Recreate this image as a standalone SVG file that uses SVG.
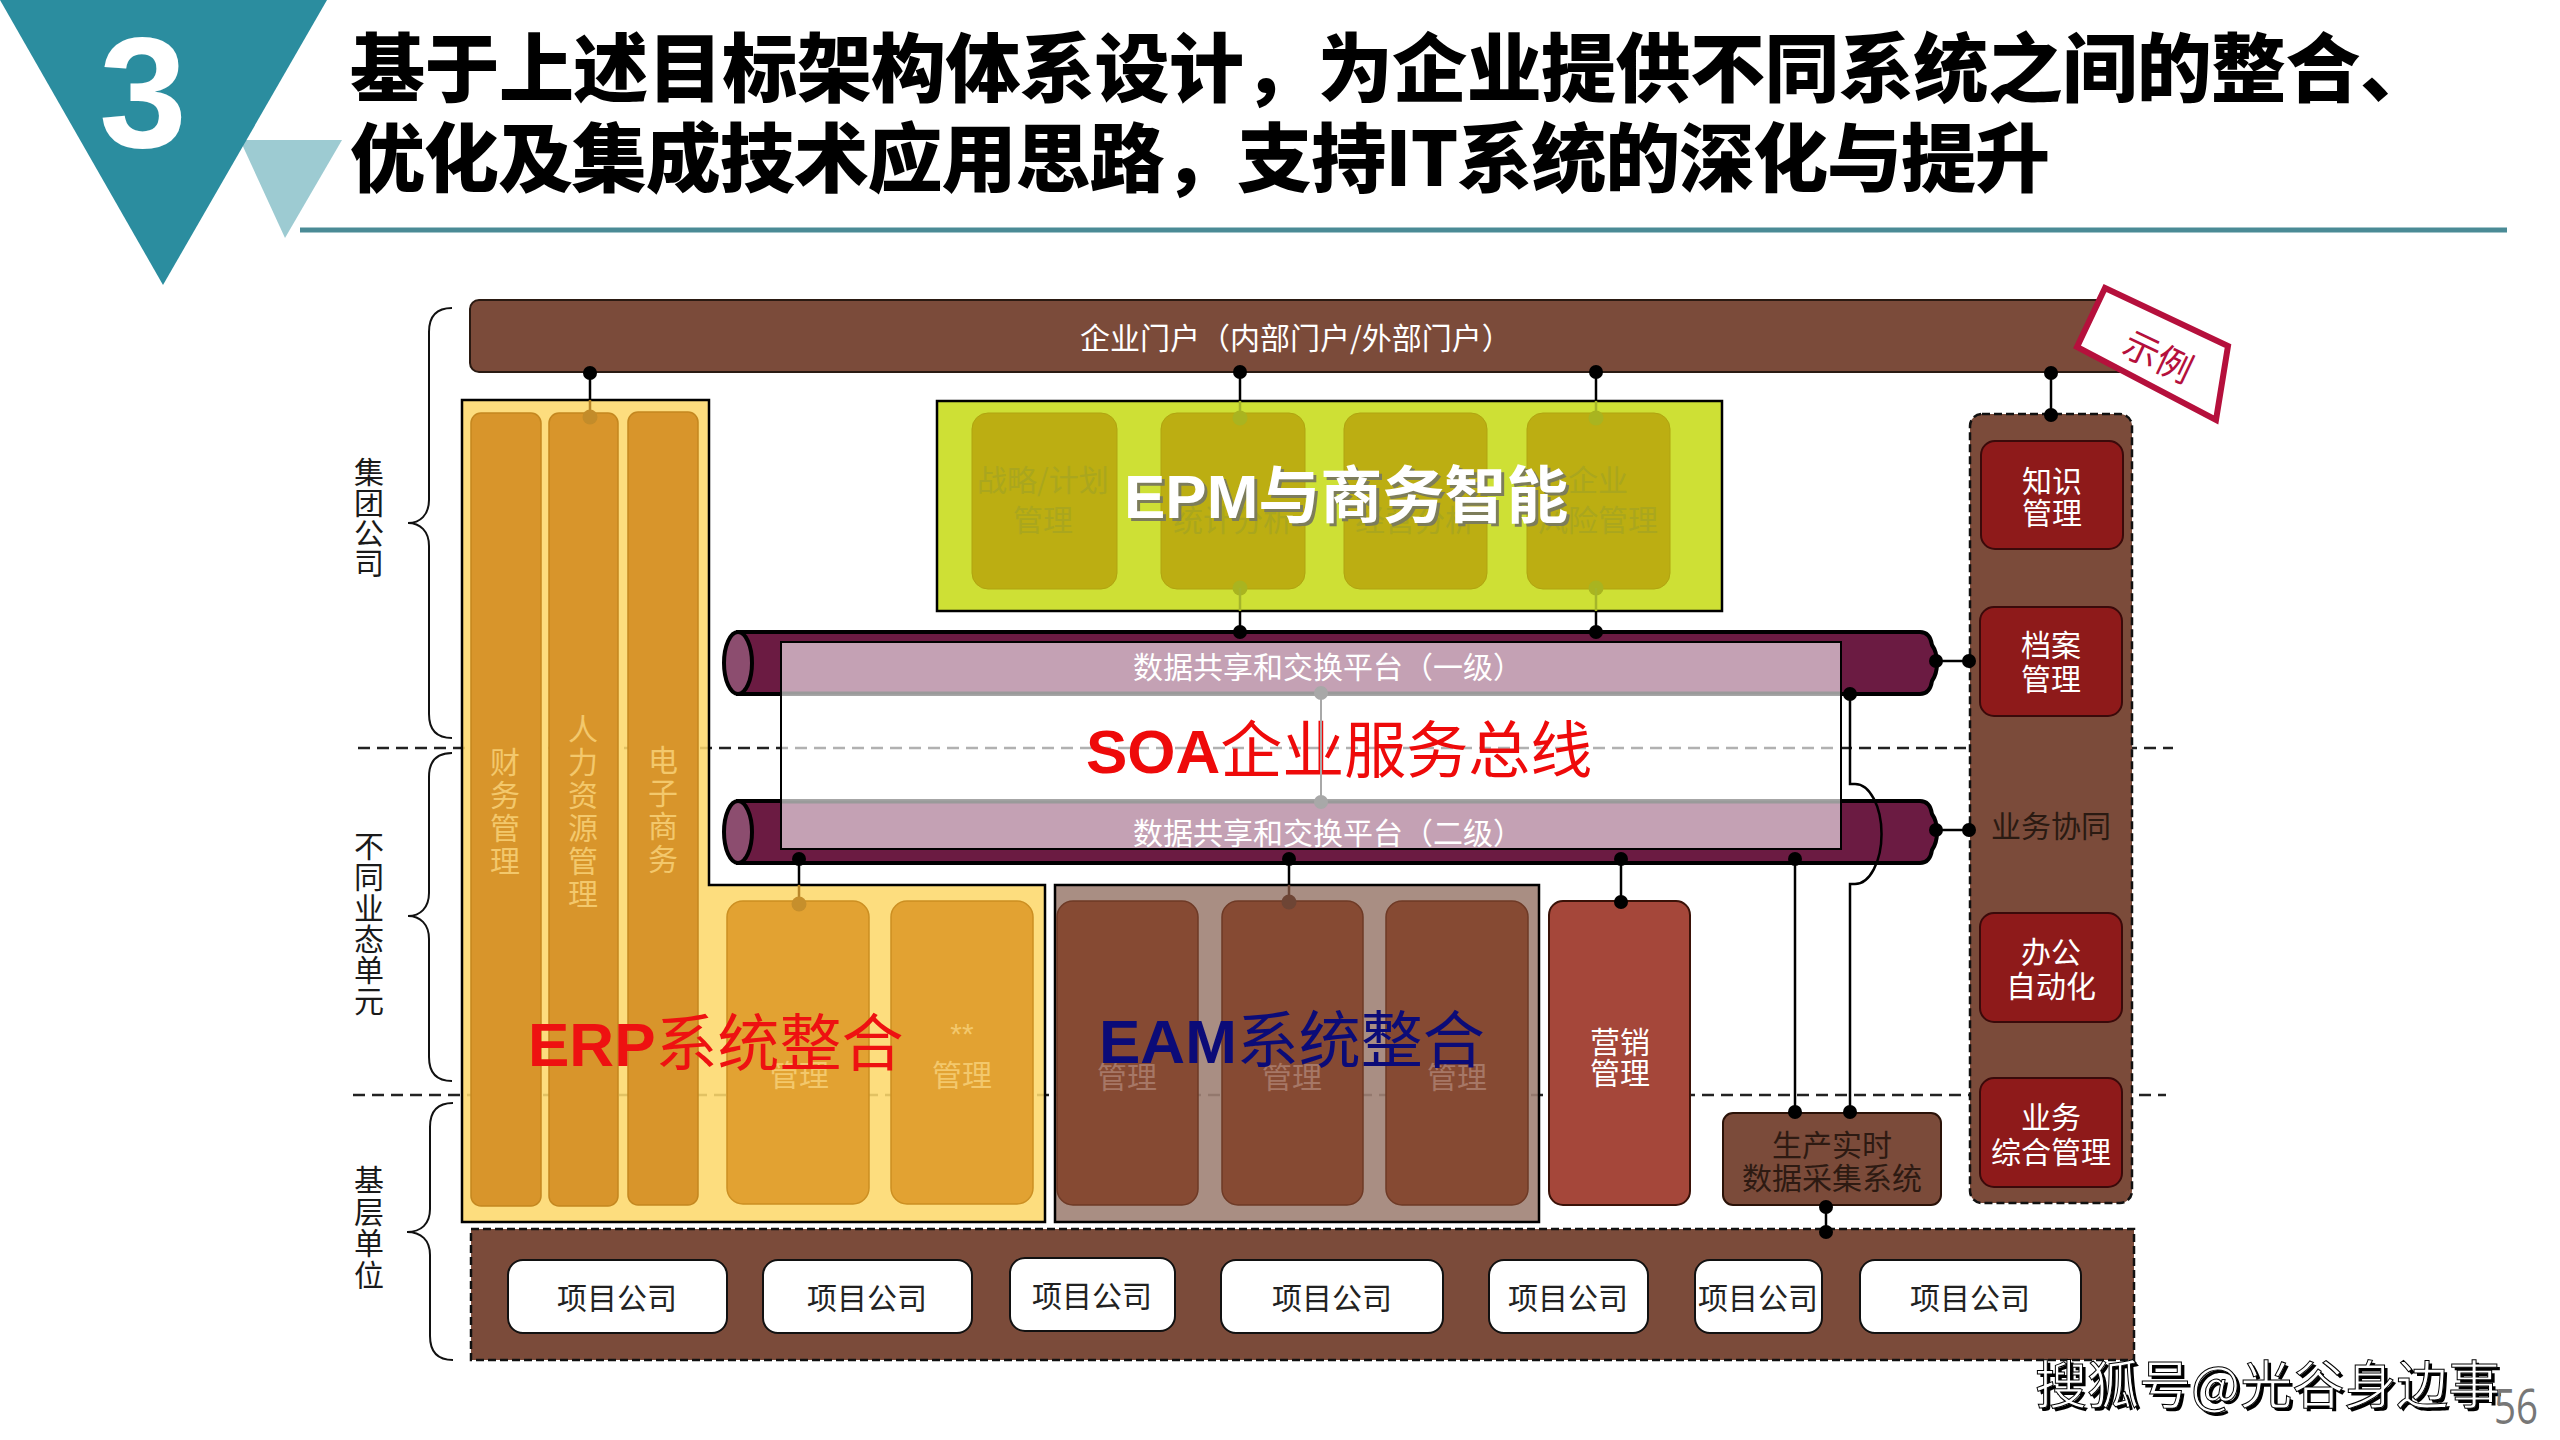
<svg xmlns="http://www.w3.org/2000/svg" width="2560" height="1440" viewBox="0 0 2560 1440">
<defs>
<style>
.cjk{font-family:'Noto Sans CJK SC','Noto Sans',sans-serif;}
.t30{font-family:'Noto Sans CJK SC',sans-serif;font-size:30px;}
.mid{text-anchor:middle;}
.wt{fill:#ffffff;}
.dk{fill:#1a1a1a;}
.ln{stroke:#000;stroke-width:2.5;fill:none;}
.dot{fill:#000;}
.dash{stroke:#222;stroke-width:2.5;stroke-dasharray:12 7;fill:none;}
.brace{stroke:#111;stroke-width:2;fill:none;}
.brown{fill:#7b4b3a;}
.redbox{fill:#8e1a1a;stroke:#3a0a0a;stroke-width:2;}
.col{fill:#d8952b;stroke:#c4871f;stroke-width:1.5;}
.erpb{fill:#e2a232;stroke:#cc8f22;stroke-width:1.5;}
.coltx{fill:#f3c86c;}
.eamb{fill:#864a33;stroke:#6e3a26;stroke-width:1.5;}
.eamtx{fill:#a67766;}
.epmb{fill:#bcae12;stroke:#b0a410;stroke-width:1;}
.epmtx{fill:#aaa61e;}
.pipe{fill:#6b1b42;stroke:#000;stroke-width:4;}
.pink{fill:#c4a1b4;}
.proj{fill:#fff;stroke:#111;stroke-width:2;}
.title{font-family:'Noto Sans CJK SC',sans-serif;font-size:75px;font-weight:900;fill:#000;}
.big{font-size:62px;}
.lat{font-family:'Liberation Sans',Arial,sans-serif;font-weight:bold;}
</style>
</defs>

<!-- header -->
<g id="header">
<polygon points="240,140 342,140 285,238" fill="#9dcbd2"/>
<polygon points="0,0 327,0 163,285" fill="#2b8d9f"/>
<text x="143" y="147" text-anchor="middle" font-family="'Liberation Sans',Arial,sans-serif" font-weight="bold" font-size="158" fill="#fff">3</text>
<text class="title" x="350" y="96" textLength="2085" lengthAdjust="spacing">基于上述目标架构体系设计，为企业提供不同系统之间的整合、</text>
<text class="title" x="350" y="186" textLength="1700" lengthAdjust="spacing">优化及集成技术应用思路，支持IT系统的深化与提升</text>
<line x1="300" y1="230" x2="2507" y2="230" stroke="#4a8b96" stroke-width="5"/>
</g>

<!-- layer separators -->
<g id="separators">
<line class="dash" x1="358" y1="748" x2="2173" y2="748"/>
<line class="dash" x1="353" y1="1095" x2="2166" y2="1095"/>
</g>

<!-- braces and layer labels -->
<g id="layer-labels">
<path class="brace" d="M452,308 C436,308 429,316 429,332 L429,500 C429,515 420,523 408,523 C420,523 429,531 429,546 L429,714 C429,730 436,738 452,738"/>
<path class="brace" d="M452,753 C436,753 429,761 429,777 L429,893 C429,908 420,916 408,916 C420,916 429,924 429,939 L429,1057 C429,1073 436,1081 452,1081"/>
<path class="brace" d="M453,1103 C437,1103 430,1111 430,1127 L430,1209 C430,1224 421,1232 407,1232 C421,1232 430,1240 430,1255 L430,1336 C430,1352 437,1360 453,1360"/>
<text class="t30 mid dk"><tspan x="369" y="483">集</tspan><tspan x="369" y="514">团</tspan><tspan x="369" y="544">公</tspan><tspan x="369" y="574">司</tspan></text>
<text class="t30 mid dk"><tspan x="369" y="857">不</tspan><tspan x="369" y="888">同</tspan><tspan x="369" y="919">业</tspan><tspan x="369" y="950">态</tspan><tspan x="369" y="981">单</tspan><tspan x="369" y="1012">元</tspan></text>
<text class="t30 mid dk"><tspan x="369" y="1191">基</tspan><tspan x="369" y="1223">层</tspan><tspan x="369" y="1254">单</tspan><tspan x="369" y="1286">位</tspan></text>
</g>

<!-- portal -->
<g id="portal">
<rect x="470" y="300" width="1660" height="72" rx="9" class="brown" stroke="#2a1a12" stroke-width="2"/>
<text class="t30 mid wt" x="1296" y="349">企业门户（内部门户/外部门户）</text>
</g>

<!-- ERP -->
<g id="erp">
<path d="M462,400 H709 V885 H1045 V1222 H462 Z" fill="#fdd86c" fill-opacity="0.88" stroke="#000" stroke-width="2.5"/>
<rect class="col" x="471" y="413" width="70" height="793" rx="10"/>
<rect class="col" x="549" y="413" width="69" height="793" rx="10"/>
<rect class="col" x="628" y="412" width="70" height="793" rx="10"/>
<rect class="erpb" x="727" y="901" width="142" height="303" rx="16"/>
<rect class="erpb" x="891" y="901" width="142" height="303" rx="16"/>
<text class="t30 mid coltx"><tspan x="505" y="773">财</tspan><tspan x="505" y="806">务</tspan><tspan x="505" y="839">管</tspan><tspan x="505" y="872">理</tspan></text>
<text class="t30 mid coltx"><tspan x="583" y="740">人</tspan><tspan x="583" y="773">力</tspan><tspan x="583" y="806">资</tspan><tspan x="583" y="839">源</tspan><tspan x="583" y="872">管</tspan><tspan x="583" y="905">理</tspan></text>
<text class="t30 mid coltx"><tspan x="663" y="771">电</tspan><tspan x="663" y="804">子</tspan><tspan x="663" y="837">商</tspan><tspan x="663" y="870">务</tspan></text>
<text class="t30 mid coltx" x="799" y="1086">管理</text>
<text class="mid coltx" x="962" y="1044" font-family="'Liberation Sans',Arial,sans-serif" font-size="30">**</text>
<text class="t30 mid coltx" x="962" y="1086">管理</text>
<text x="528" y="1066" fill="#ee1111" class="big"><tspan class="lat">ERP</tspan><tspan class="cjk">系统整合</tspan></text>
</g>

<!-- EPM -->
<g id="epm">
<rect x="937" y="401" width="785" height="210" fill="#cee035" stroke="#000" stroke-width="2.5"/>
<rect class="epmb" x="972" y="413" width="145" height="176" rx="16"/>
<rect class="epmb" x="1161" y="413" width="144" height="176" rx="16"/>
<rect class="epmb" x="1344" y="413" width="143" height="176" rx="16"/>
<rect class="epmb" x="1527" y="413" width="143" height="176" rx="16"/>
<text class="t30 mid epmtx" x="1043" y="491">战略/计划</text>
<text class="t30 mid epmtx" x="1043" y="531">管理</text>
<text class="t30 mid epmtx" x="1233" y="531">统计分析</text>
<text class="t30 mid epmtx" x="1415" y="531">经营分析</text>
<text class="t30 mid epmtx" x="1598" y="491">企业</text>
<text class="t30 mid epmtx" x="1598" y="531">风险管理</text>
<text x="1127" y="521" fill="#7d7d5a" class="big" font-weight="bold"><tspan class="lat">EPM</tspan><tspan class="cjk">与商务智能</tspan></text>
<text x="1124" y="518" fill="#ffffff" class="big" font-weight="bold"><tspan class="lat">EPM</tspan><tspan class="cjk">与商务智能</tspan></text>
</g>

<!-- SOA bus -->
<g id="soa">
<path class="pipe" d="M738,632 H1920 Q1930,632 1932,645 Q1937,652 1937,663 Q1937,674 1932,681 Q1930,694 1920,694 H738 Z"/>
<ellipse cx="738" cy="663" rx="14" ry="31" fill="#8c4d6f" stroke="#000" stroke-width="4"/>
<path class="pipe" d="M738,801 H1920 Q1930,801 1932,814 Q1937,821 1937,832 Q1937,843 1932,850 Q1930,863 1920,863 H738 Z"/>
<ellipse cx="738" cy="832" rx="14" ry="31" fill="#8c4d6f" stroke="#000" stroke-width="4"/>
<rect class="pink" x="781" y="642" width="1060" height="50"/>
<rect x="781" y="694" width="1060" height="107" fill="#fff" fill-opacity="0.65"/>
<rect class="pink" x="781" y="803" width="1060" height="46"/>
<line x1="781" y1="693" x2="1841" y2="693" stroke="#9a9a9a" stroke-width="3"/>
<line x1="781" y1="802" x2="1841" y2="802" stroke="#9a9a9a" stroke-width="3"/>
<rect x="781" y="642" width="1060" height="207" fill="none" stroke="#000" stroke-width="2"/>
<text class="t30 mid wt" x="1328" y="678">数据共享和交换平台（一级）</text>
<text class="t30 mid wt" x="1328" y="844">数据共享和交换平台（二级）</text>
<text x="1086" y="773" fill="#ee0a0a" class="big"><tspan class="lat">SOA</tspan><tspan class="cjk">企业服务总线</tspan></text>
</g>

<!-- EAM -->
<g id="eam">
<rect x="1055" y="885" width="484" height="337" fill="#a08275" fill-opacity="0.9" stroke="#000" stroke-width="2.5"/>
<rect class="eamb" x="1057" y="901" width="141" height="304" rx="16"/>
<rect class="eamb" x="1222" y="901" width="141" height="304" rx="16"/>
<rect class="eamb" x="1386" y="901" width="142" height="304" rx="16"/>
<text class="t30 mid eamtx" x="1127" y="1088">管理</text>
<text class="t30 mid eamtx" x="1292" y="1088">管理</text>
<text class="t30 mid eamtx" x="1457" y="1088">管理</text>
<text x="1099" y="1063" fill="#0b0b78" class="big"><tspan class="lat">EAM</tspan><tspan class="cjk">系统整合</tspan></text>
</g>

<!-- marketing -->
<g id="marketing">
<rect x="1549" y="901" width="141" height="304" rx="14" fill="#a5473a" stroke="#3a1208" stroke-width="2"/>
<text class="t30 mid wt" x="1620" y="1053">营销</text>
<text class="t30 mid wt" x="1620" y="1084">管理</text>
</g>

<!-- production data -->
<g id="production">
<rect x="1723" y="1113" width="218" height="92" rx="10" class="brown" stroke="#2a1208" stroke-width="2"/>
<text class="t30 mid" x="1832" y="1156" fill="#2d1a12">生产实时</text>
<text class="t30 mid" x="1832" y="1189" fill="#2d1a12">数据采集系统</text>
</g>

<!-- collaboration -->
<g id="collaboration">
<rect x="1970" y="414" width="162" height="789" rx="12" class="brown" stroke="#111" stroke-width="2.5" stroke-dasharray="8 4"/>
<rect class="redbox" x="1981" y="441" width="142" height="108" rx="14"/>
<text class="t30 mid wt" x="2052" y="492">知识</text>
<text class="t30 mid wt" x="2052" y="524">管理</text>
<rect class="redbox" x="1980" y="607" width="142" height="109" rx="14"/>
<text class="t30 mid wt" x="2051" y="656">档案</text>
<text class="t30 mid wt" x="2051" y="690">管理</text>
<text class="t30 mid" x="2051" y="837" fill="#2a1a12">业务协同</text>
<rect class="redbox" x="1980" y="913" width="142" height="109" rx="14"/>
<text class="t30 mid wt" x="2051" y="963">办公</text>
<text class="t30 mid wt" x="2051" y="997">自动化</text>
<rect class="redbox" x="1980" y="1078" width="142" height="109" rx="14"/>
<text class="t30 mid wt" x="2051" y="1128">业务</text>
<text class="t30 mid wt" x="2051" y="1163">综合管理</text>
</g>

<!-- project companies -->
<g id="projects">
<rect x="471" y="1229" width="1663" height="131" class="brown" stroke="#111" stroke-width="2.5" stroke-dasharray="8 4"/>
<rect class="proj" x="508" y="1260" width="219" height="73" rx="15"/>
<rect class="proj" x="763" y="1260" width="209" height="73" rx="15"/>
<rect class="proj" x="1010" y="1258" width="165" height="73" rx="15"/>
<rect class="proj" x="1221" y="1260" width="222" height="73" rx="15"/>
<rect class="proj" x="1489" y="1260" width="159" height="73" rx="15"/>
<rect class="proj" x="1695" y="1260" width="127" height="73" rx="15"/>
<rect class="proj" x="1860" y="1260" width="221" height="73" rx="15"/>
<text class="t30 mid" fill="#222" x="617" y="1309">项目公司</text>
<text class="t30 mid" fill="#222" x="867" y="1309">项目公司</text>
<text class="t30 mid" fill="#222" x="1092" y="1307">项目公司</text>
<text class="t30 mid" fill="#222" x="1332" y="1309">项目公司</text>
<text class="t30 mid" fill="#222" x="1568" y="1309">项目公司</text>
<text class="t30 mid" fill="#222" x="1758" y="1309">项目公司</text>
<text class="t30 mid" fill="#222" x="1970" y="1309">项目公司</text>
</g>

<!-- connectors -->
<g id="connectors">
<line class="ln" x1="590" y1="373" x2="590" y2="400"/>
<line x1="590" y1="400" x2="590" y2="417" stroke="#b8862a" stroke-width="2.5"/>
<circle class="dot" cx="590" cy="373" r="7"/>
<circle cx="590" cy="417" r="7.5" fill="#c38c2a"/>

<line class="ln" x1="1240" y1="372" x2="1240" y2="401"/>
<line x1="1240" y1="401" x2="1240" y2="418" stroke="#a5b52a" stroke-width="2.5"/>
<circle class="dot" cx="1240" cy="372" r="7"/>
<circle cx="1240" cy="418" r="7.5" fill="#a9b420"/>
<circle cx="1240" cy="588" r="7.5" fill="#a9b420"/>
<line x1="1240" y1="588" x2="1240" y2="611" stroke="#a5b52a" stroke-width="2.5"/>
<line class="ln" x1="1240" y1="611" x2="1240" y2="632"/>
<circle class="dot" cx="1240" cy="632" r="7"/>

<line class="ln" x1="1596" y1="372" x2="1596" y2="401"/>
<line x1="1596" y1="401" x2="1596" y2="418" stroke="#a5b52a" stroke-width="2.5"/>
<circle class="dot" cx="1596" cy="372" r="7"/>
<circle cx="1596" cy="418" r="7.5" fill="#a9b420"/>
<circle cx="1596" cy="588" r="7.5" fill="#a9b420"/>
<line x1="1596" y1="588" x2="1596" y2="611" stroke="#a5b52a" stroke-width="2.5"/>
<line class="ln" x1="1596" y1="611" x2="1596" y2="632"/>
<circle class="dot" cx="1596" cy="632" r="7"/>

<line class="ln" x1="2051" y1="373" x2="2051" y2="414"/>
<circle class="dot" cx="2051" cy="373" r="7"/>
<circle class="dot" cx="2051" cy="415" r="7"/>

<line class="ln" x1="1936" y1="661" x2="1969" y2="661"/>
<circle class="dot" cx="1936" cy="661" r="7"/>
<circle class="dot" cx="1969" cy="661" r="7"/>
<line class="ln" x1="1936" y1="830" x2="1969" y2="830"/>
<circle class="dot" cx="1936" cy="830" r="7"/>
<circle class="dot" cx="1969" cy="830" r="7"/>

<line x1="1321" y1="693" x2="1321" y2="802" stroke="#a8a8a8" stroke-width="2"/>
<circle cx="1321" cy="693" r="7" fill="#a8a8a8"/>
<circle cx="1321" cy="802" r="7" fill="#a8a8a8"/>

<line class="ln" x1="799" y1="859" x2="799" y2="885"/>
<line x1="799" y1="885" x2="799" y2="904" stroke="#b8862a" stroke-width="2.5"/>
<circle class="dot" cx="799" cy="859" r="7"/>
<circle cx="799" cy="904" r="7.5" fill="#c68f2c"/>

<line class="ln" x1="1289" y1="859" x2="1289" y2="885"/>
<line x1="1289" y1="885" x2="1289" y2="902" stroke="#6a4536" stroke-width="2.5"/>
<circle class="dot" cx="1289" cy="859" r="7"/>
<circle cx="1289" cy="902" r="7.5" fill="#6e4535"/>

<line class="ln" x1="1621" y1="859" x2="1621" y2="902"/>
<circle class="dot" cx="1621" cy="859" r="7"/>
<circle class="dot" cx="1621" cy="902" r="7"/>

<line class="ln" x1="1795" y1="859" x2="1795" y2="1112"/>
<circle class="dot" cx="1795" cy="859" r="7"/>
<circle class="dot" cx="1795" cy="1112" r="7"/>

<path class="ln" d="M1850,694 V784 H1855 A26,49 0 0 1 1855,884 H1850 V1112"/>
<circle class="dot" cx="1850" cy="694" r="7"/>
<circle class="dot" cx="1850" cy="1112" r="7"/>

<line class="ln" x1="1826" y1="1207" x2="1826" y2="1232"/>
<circle class="dot" cx="1826" cy="1207" r="7"/>
<circle class="dot" cx="1826" cy="1232" r="7"/>
</g>

<!-- sample stamp -->
<g id="stamp">
<polygon points="2105,288 2228,346 2216,420 2077,347" fill="#fff" stroke="#b5103c" stroke-width="6" stroke-linejoin="miter"/>
<text class="cjk" x="2158" y="370" text-anchor="middle" font-size="36" fill="#b5103c" transform="rotate(25.4 2158 357)">示例</text>
</g>

<!-- watermark -->
<g id="watermark">
<text class="cjk" x="2038" y="1407" font-size="52" fill="#000">搜狐号@光谷身边事</text>
<text class="cjk" x="2035" y="1404" font-size="52" fill="#fff" stroke="#000" stroke-width="1">搜狐号@光谷身边事</text>
<text x="2494" y="1424" font-family="'Open Sans','Liberation Sans',sans-serif" font-size="50" fill="#777" textLength="44" lengthAdjust="spacingAndGlyphs">56</text>
</g>
</svg>
